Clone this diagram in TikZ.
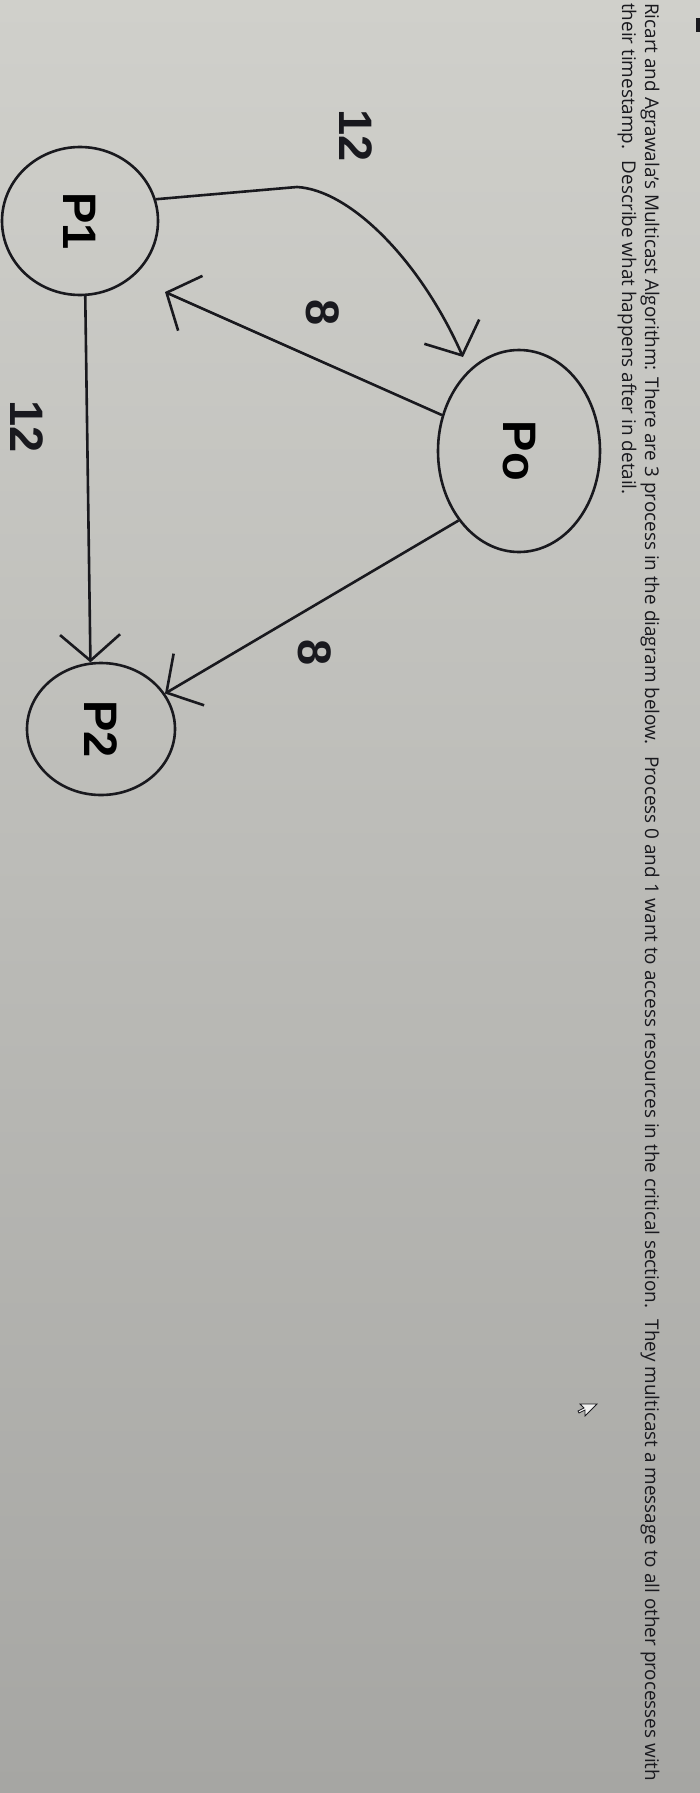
\documentclass[tikz,border=0pt]{standalone}
\usepackage{fontspec}
\setmainfont{Open Sans}
\newfontfamily\labelfont{Liberation Sans}
\usetikzlibrary{arrows.meta,shapes.geometric}
\definecolor{screentop}{RGB}{208,208,203}
\definecolor{screenbot}{RGB}{166,166,163}
\definecolor{ink}{RGB}{25,25,30}

\begin{document}
\begin{tikzpicture}[x=1pt,y=-1pt,
        proc/.style={draw=ink,ellipse,line width=2.6pt,inner sep=0pt,
            font=\labelfont\bfseries\fontsize{47}{47}\selectfont},
        weight/.style={rotate=-90,text=ink,inner sep=0pt,
            font=\labelfont\bfseries\fontsize{47}{47}\selectfont},
        msg/.style={draw=ink,line width=2.6pt,
            -{Straight Barb[length=26pt,width=60pt]}},
        question/.style={rotate=-90,anchor=base west,inner sep=0pt,text=ink,
            font=\fontsize{18.9}{22}\selectfont}
    ]
    \shade[top color=screentop,bottom color=screenbot] (0,0) rectangle (700,1793);
    \useasboundingbox (0,0) rectangle (700,1793);

    % question text, photographed sideways
    \node[question] (line1) at (645,3) {Ricart and Agrawala’s Multicast Algorithm: There are 3 process in the diagram below.~ Process 0 and 1 want to access resources in the critical section.~ They multicast a message to all other processes with};
    \node[question] (line2) at (622,3) {their timestamp.~ Describe what happens after in detail.};
    \fill[ink] (696,18) rectangle (700,32);

    % processes
    \node[proc,minimum width=162pt,minimum height=202pt] (Po) at (519,451) {\rotatebox{-90}{Po}};
    \node[proc,minimum width=156pt,minimum height=148pt] (P1) at (80,221) {\rotatebox{-90}{P1}};
    \node[proc,minimum width=148pt,minimum height=132pt] (P2) at (101,729) {\rotatebox{-90}{P2}};
    \coordinate (t0) at (463,357);
    \coordinate (t1) at (165,292);

    % requests with timestamps
    \draw[msg] (P1.16) -- (297,187) .. controls (350,190) and (420,260) .. (t0);
    \draw[msg] (Po.155) -- (t1);
    \draw[msg] (Po.229) -- (P2.29);
    \draw[msg] (P1.-86) -- (P2.99);

    \node[weight] (w12a) at (356,136) {12};
    \node[weight] (w8a) at (323,313) {8};
    \node[weight] (w8b) at (315,653) {8};
    \node[weight] (w12b) at (27,427) {12};

    % mouse pointer
    \draw[ink,line width=0.8pt,fill=white!85!screenbot] (597,1404) -- ++(-17,0) -- ++(4,4) -- ++(-6,3)
        -- ++(1,2) -- ++(6,-3) -- ++(0,6) -- cycle;
\end{tikzpicture}
\end{document}
